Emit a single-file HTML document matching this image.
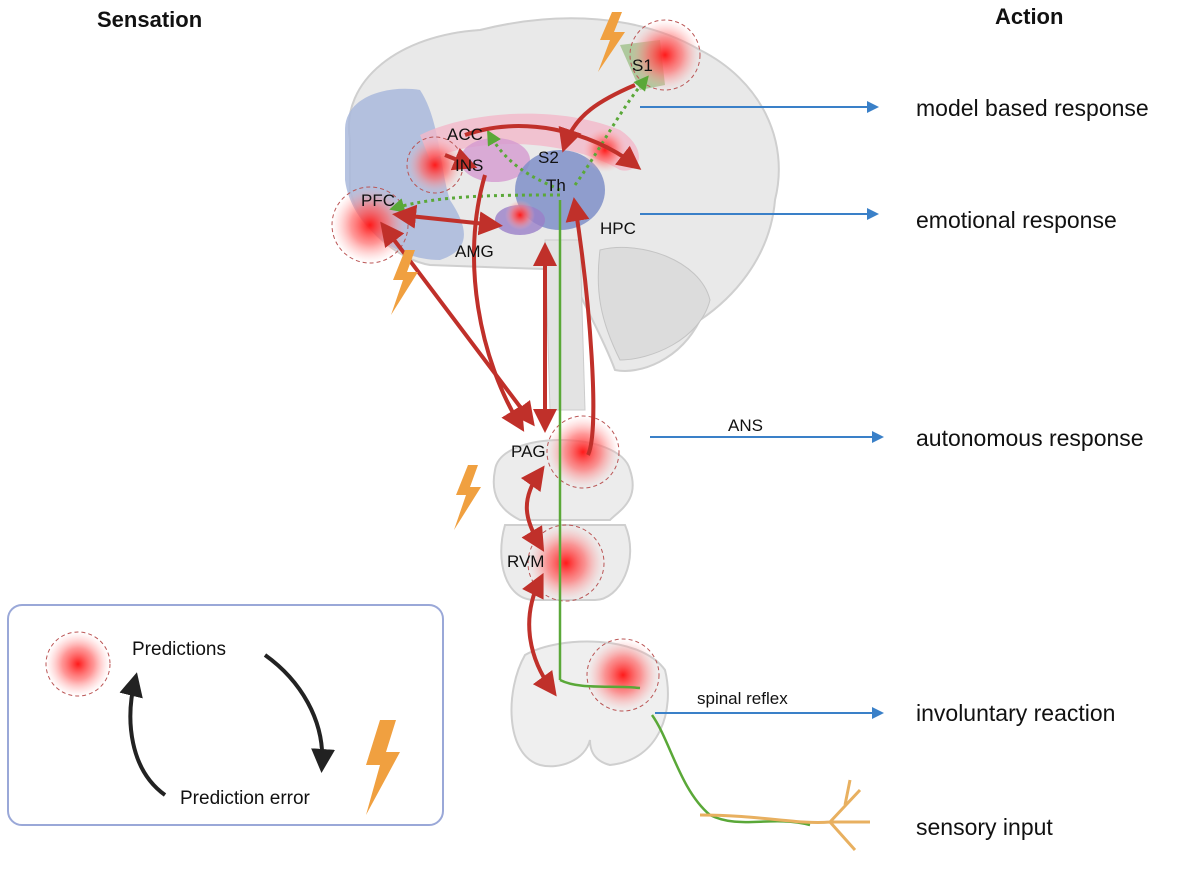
<!DOCTYPE html>
<html><head><meta charset="utf-8"><style>
html,body{margin:0;padding:0;background:#fff;}
svg{display:block;font-family:"Liberation Sans",Arial,sans-serif;}
</style></head><body>
<svg width="1200" height="889" viewBox="0 0 1200 889" xmlns="http://www.w3.org/2000/svg">
<defs>
<radialGradient id="rg"><stop offset="0" stop-color="#ff1a1a"/><stop offset="0.5" stop-color="#ff6b6b" stop-opacity="0.7"/><stop offset="1" stop-color="#ffb0b0" stop-opacity="0"/></radialGradient>
<marker id="ar" markerWidth="6" markerHeight="6" refX="4" refY="3" orient="auto-start-reverse" markerUnits="strokeWidth"><path d="M0,0 L6,3 L0,6 z" fill="#c0302a"/></marker>
<marker id="ab" markerWidth="6" markerHeight="6" refX="4" refY="3" orient="auto" markerUnits="strokeWidth"><path d="M0,0 L6,3 L0,6 z" fill="#3a80c8"/></marker>
<marker id="ag" markerWidth="5" markerHeight="5" refX="3" refY="2.5" orient="auto-start-reverse" markerUnits="strokeWidth"><path d="M0,0 L5,2.5 L0,5 z" fill="#5aa838"/></marker>
<marker id="ak" markerWidth="6" markerHeight="6" refX="4" refY="3" orient="auto" markerUnits="strokeWidth"><path d="M0,0 L6,3 L0,6 z" fill="#222"/></marker>
</defs>
<!-- brain -->
<path d="M350,140 C340,80 400,35 480,30 C560,10 640,15 700,50 C760,80 790,140 775,200 C770,260 730,300 700,320 C680,360 640,375 615,370 C600,330 580,300 570,270 L430,265 C400,260 360,230 350,190 Z" fill="#e9e9e9" stroke="#cfcfcf" stroke-width="2"/>
<path d="M600,250 C640,240 700,260 710,300 C700,340 650,360 620,360 C600,320 595,290 600,250Z" fill="#dcdcdc" stroke="#c4c4c4"/>
<path d="M545,240 L580,240 L585,410 L550,410 Z" fill="#e3e3e3" stroke="#ccc"/>
<path d="M345,130 C345,95 390,85 420,90 C440,120 440,170 450,200 C470,230 470,250 440,260 C390,260 350,220 345,180Z" fill="#a9b8dc" opacity="0.85"/>
<path d="M420,135 C470,110 560,105 620,130 C650,150 640,175 620,170 C570,140 480,135 430,160Z" fill="#f2b8c9" opacity="0.8"/>
<ellipse cx="495" cy="160" rx="35" ry="22" fill="#d49ad0" opacity="0.8"/>
<ellipse cx="560" cy="190" rx="45" ry="40" fill="#7f8fc8" opacity="0.85"/>
<ellipse cx="520" cy="220" rx="25" ry="15" fill="#9a7fc8" opacity="0.8"/>
<path d="M620,45 L660,40 L665,85 L640,90 Z" fill="#9fc08a" opacity="0.8"/>
<!-- brainstem & cord -->
<path d="M495,470 C500,430 620,430 630,470 C640,500 620,510 610,520 L520,520 C500,510 490,495 495,470Z" fill="#ececec" stroke="#cfcfcf" stroke-width="2"/>
<path d="M505,525 L625,525 C640,560 620,600 595,600 L535,600 C505,600 495,560 505,525Z" fill="#ececec" stroke="#cfcfcf" stroke-width="2"/>
<path d="M525,655 C560,635 640,635 665,670 C675,710 660,760 610,765 C590,760 590,745 590,740 C585,760 560,770 540,765 C505,755 505,690 525,655Z" fill="#efefef" stroke="#cfcfcf" stroke-width="2"/>
<!-- glows -->
<g>
<circle cx="665" cy="55" r="35" fill="url(#rg)"/><circle cx="665" cy="55" r="35" fill="none" stroke="#b55" stroke-dasharray="4 3"/>
<circle cx="435" cy="165" r="28" fill="url(#rg)"/><circle cx="435" cy="165" r="28" fill="none" stroke="#b55" stroke-dasharray="4 3"/>
<circle cx="370" cy="225" r="38" fill="url(#rg)"/><circle cx="370" cy="225" r="38" fill="none" stroke="#b55" stroke-dasharray="4 3"/>
<circle cx="520" cy="215" r="15" fill="url(#rg)"/>
<circle cx="605" cy="150" r="22" fill="url(#rg)"/>
<circle cx="583" cy="452" r="36" fill="url(#rg)"/><circle cx="583" cy="452" r="36" fill="none" stroke="#b55" stroke-dasharray="4 3"/>
<circle cx="566" cy="563" r="38" fill="url(#rg)"/><circle cx="566" cy="563" r="38" fill="none" stroke="#b55" stroke-dasharray="4 3"/>
<circle cx="623" cy="675" r="36" fill="url(#rg)"/><circle cx="623" cy="675" r="36" fill="none" stroke="#b55" stroke-dasharray="4 3"/>
<circle cx="78" cy="664" r="32" fill="url(#rg)"/><circle cx="78" cy="664" r="32" fill="none" stroke="#b55" stroke-dasharray="4 3"/>
</g>
<!-- green path -->
<path d="M560,680 L560,200" stroke="#5aa838" stroke-width="2.5" fill="none"/>
<path d="M560,680 C580,690 610,685 640,688" stroke="#5aa838" stroke-width="2.5" fill="none"/>
<path d="M652,715 C670,740 680,790 710,815 C740,830 770,815 810,825" stroke="#5aa838" stroke-width="2.5" fill="none"/>
<path d="M700,815 C760,815 800,825 830,822 M830,822 L860,790 M830,822 L870,822 M830,822 L855,850 M845,805 L850,780" stroke="#e8b060" stroke-width="3" fill="none"/>
<path d="M560,190 C540,180 510,170 490,135" stroke="#5aa838" stroke-width="3" stroke-dasharray="3 4" fill="none" marker-end="url(#ag)"/>
<path d="M575,185 C600,150 620,110 645,80" stroke="#5aa838" stroke-width="3" stroke-dasharray="3 4" fill="none" marker-end="url(#ag)"/>
<path d="M560,195 C500,195 440,195 395,208" stroke="#5aa838" stroke-width="3" stroke-dasharray="3 4" fill="none" marker-end="url(#ag)"/>
<!-- red arrows -->
<g stroke="#c0302a" stroke-width="4" fill="none">
<path d="M635,85 C600,100 575,115 565,145" marker-end="url(#ar)"/>
<path d="M465,135 C520,115 590,130 635,165" marker-end="url(#ar)"/>
<path d="M445,155 L470,165" marker-end="url(#ar)"/>
<path d="M400,215 L495,225" marker-start="url(#ar)" marker-end="url(#ar)"/>
<path d="M385,228 C440,300 500,380 530,420" marker-start="url(#ar)" marker-end="url(#ar)"/>
<path d="M485,175 C460,260 480,360 520,425" marker-end="url(#ar)"/>
<path d="M545,250 L545,425" marker-start="url(#ar)" marker-end="url(#ar)"/>
<path d="M588,455 C600,430 590,300 575,205" marker-end="url(#ar)"/>
<path d="M540,472 C520,500 525,520 540,545" marker-start="url(#ar)" marker-end="url(#ar)"/>
<path d="M540,580 C520,620 530,660 552,690" marker-start="url(#ar)" marker-end="url(#ar)"/>
</g>
<!-- lightning -->
<g fill="#f0a040">
<path d="M612,12 L600,40 L610,40 L598,72 L625,32 L614,32 L622,12Z"/>
<path d="M405,250 L393,280 L403,280 L391,315 L418,272 L407,272 L415,250Z"/>
<path d="M468,465 L456,495 L466,495 L454,530 L481,487 L470,487 L478,465Z"/>
<path d="M380,720 L366,765 L380,765 L366,815 L400,752 L386,752 L396,720Z"/>
</g>
<!-- labels -->
<g font-size="17" fill="#111">
<text x="632" y="71">S1</text><text x="447" y="140">ACC</text><text x="455" y="171">INS</text>
<text x="538" y="163">S2</text><text x="546" y="191">Th</text><text x="361" y="206">PFC</text>
<text x="455" y="257">AMG</text><text x="600" y="234">HPC</text>
<text x="511" y="457">PAG</text><text x="507" y="567">RVM</text>
</g>
<g font-size="22" font-weight="bold" fill="#111"><text x="97" y="27">Sensation</text><text x="995" y="24">Action</text></g>
<g font-size="23" fill="#111">
<text x="916" y="116">model based response</text><text x="916" y="228">emotional response</text>
<text x="916" y="446">autonomous response</text><text x="916" y="721">involuntary reaction</text>
<text x="916" y="835">sensory input</text>
</g>
<g stroke="#3a80c8" stroke-width="2" fill="none">
<path d="M640,107 L875,107" marker-end="url(#ab)"/>
<path d="M640,214 L875,214" marker-end="url(#ab)"/>
<path d="M650,437 L880,437" marker-end="url(#ab)"/>
<path d="M655,713 L880,713" marker-end="url(#ab)"/>
</g>
<text x="728" y="431" font-size="17" fill="#111">ANS</text>
<text x="697" y="704" font-size="17" fill="#111">spinal reflex</text>
<!-- legend -->
<rect x="8" y="605" width="435" height="220" rx="14" fill="none" stroke="#9aa8d8" stroke-width="2"/>
<text x="132" y="655" font-size="19" fill="#111">Predictions</text>
<text x="180" y="804" font-size="19" fill="#111">Prediction error</text>
<path d="M265,655 C300,680 325,720 322,765" stroke="#222" stroke-width="4" fill="none" marker-end="url(#ak)"/>
<path d="M165,795 C130,770 125,720 135,680" stroke="#222" stroke-width="4" fill="none" marker-end="url(#ak)"/>
</svg>
</body></html>
